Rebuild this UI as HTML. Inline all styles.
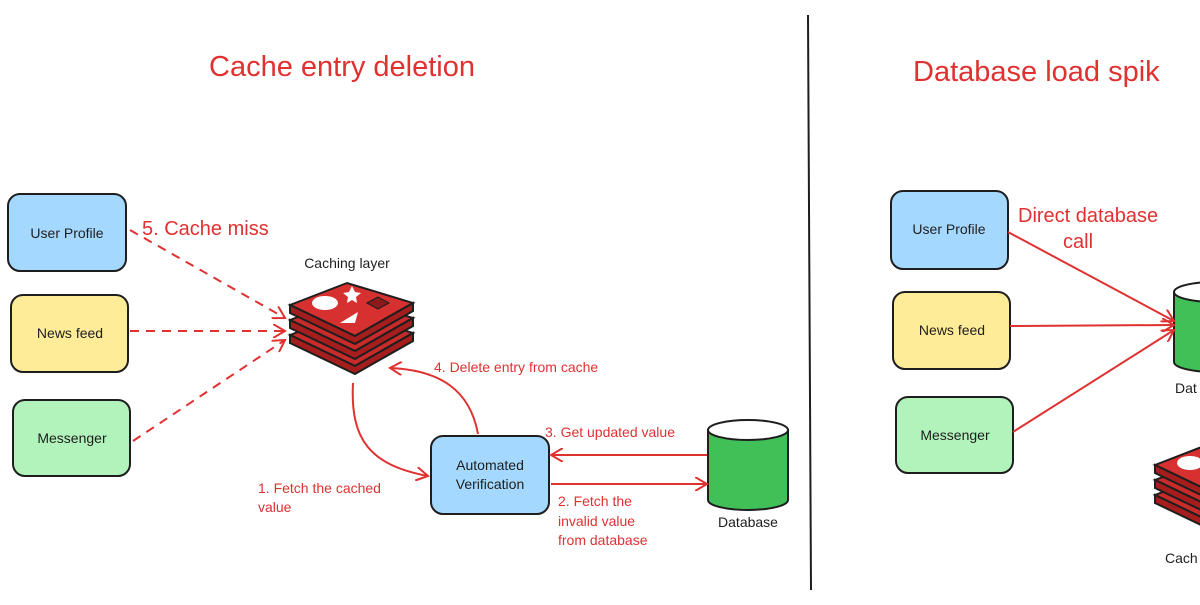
<!DOCTYPE html>
<html><head><meta charset="utf-8"><style>
html,body{margin:0;padding:0;background:#fff;}
svg text{font-family:"Liberation Sans",sans-serif;}
</style></head><body>
<svg width="1200" height="600" viewBox="0 0 1200 600" xmlns="http://www.w3.org/2000/svg">
<defs>
<marker id="ah" markerWidth="14" markerHeight="14" refX="12" refY="7" orient="auto" markerUnits="userSpaceOnUse">
<path d="M0,0 L12,7 L0,14" fill="none" stroke="#e03131" stroke-width="2"/>
</marker>
<g id="stack">
<g stroke="#1e1e1e" stroke-width="2">
<g transform="translate(0,30)"><path d="M290,305 L347,283 L413,303 L355,336 Z" fill="#c92a2a"/><path d="M290,305 L290,313 L355,344 L413,311 L413,303 L355,336Z" fill="#a51d1d"/></g>
<g transform="translate(0,15)"><path d="M290,305 L347,283 L413,303 L355,336 Z" fill="#c92a2a"/><path d="M290,305 L290,313 L355,344 L413,311 L413,303 L355,336Z" fill="#a51d1d"/></g>
<path d="M290,305 L347,283 L413,303 L355,336 Z" fill="#d63030"/><path d="M290,305 L290,313 L355,344 L413,311 L413,303 L355,336Z" fill="#a51d1d"/>
</g>
<ellipse cx="325" cy="303" rx="13" ry="7" fill="#fff"/>
<polygon points="352,286 355,292 361,293 356,297 357,303 352,300 347,303 348,297 343,293 349,292" fill="#fff"/>
<polygon points="340,323 358,312 355,323" fill="#fff"/>
<polygon points="367,303 378,297 389,303 378,309" fill="#8b1a1a" stroke="#1e1e1e"/>
</g>
</defs>
<rect width="1200" height="600" fill="#fff"/>
<text x="342" y="76" text-anchor="middle" font-size="29" fill="#e03131">Cache entry deletion</text>
<line x1="808" y1="15" x2="811" y2="590" stroke="#1e1e1e" stroke-width="2"/>
<text x="913" y="81" font-size="29" fill="#e03131">Database load spik</text>

<g stroke="#1e1e1e" stroke-width="2">
<rect x="8" y="194" width="118" height="77" rx="12" fill="#a5d8ff"/>
<rect x="11" y="295" width="117" height="77" rx="12" fill="#ffec99"/>
<rect x="13" y="400" width="117" height="76" rx="12" fill="#b2f2bb"/>
<rect x="431" y="436" width="118" height="78" rx="12" fill="#a5d8ff"/>
<rect x="891" y="191" width="117" height="78" rx="12" fill="#a5d8ff"/>
<rect x="893" y="292" width="117" height="77" rx="12" fill="#ffec99"/>
<rect x="896" y="397" width="117" height="76" rx="12" fill="#b2f2bb"/>
</g>
<g font-size="14" fill="#1e1e1e" text-anchor="middle">
<text x="67" y="238">User Profile</text>
<text x="70" y="338">News feed</text>
<text x="72" y="443">Messenger</text>
<text x="490" y="470">Automated</text>
<text x="490" y="489">Verification</text>
<text x="949" y="234">User Profile</text>
<text x="952" y="335">News feed</text>
<text x="955" y="440">Messenger</text>
<text x="748" y="527">Database</text>
<text x="347" y="268">Caching layer</text>
</g>
<text x="1175" y="393" font-size="14" fill="#1e1e1e">Dat</text>
<text x="1165" y="563" font-size="14" fill="#1e1e1e">Cach</text>

<g stroke="#1e1e1e" stroke-width="2" fill="#40c057">
<path d="M708,430 L708,500 A40,10 0 0 0 788,500 L788,430"/>
<ellipse cx="748" cy="430" rx="40" ry="10" fill="#fff"/>
<path d="M1174,292 L1174,362 A40,10 0 0 0 1254,362 L1254,292"/>
<ellipse cx="1214" cy="292" rx="40" ry="10" fill="#fff"/>
</g>

<use href="#stack"/>
<use href="#stack" transform="translate(865,160)"/>

<g stroke="#e03131" stroke-width="2" fill="none" marker-end="url(#ah)">
<line x1="130" y1="230" x2="285" y2="318" stroke-dasharray="9,7"/>
<line x1="130" y1="331" x2="285" y2="331" stroke-dasharray="9,7"/>
<line x1="133" y1="441" x2="285" y2="340" stroke-dasharray="9,7"/>
<path d="M353,383 C350,440 370,465 428,476"/>
<path d="M478,434 C470,390 440,370 390,368"/>
<line x1="707" y1="455" x2="551" y2="455"/>
<line x1="551" y1="484" x2="707" y2="484"/>
<line x1="1008" y1="232" x2="1174" y2="321"/>
<line x1="1010" y1="326" x2="1174" y2="325"/>
<line x1="1013" y1="432" x2="1174" y2="330"/>
</g>
<g fill="#e03131">
<text x="142" y="235" font-size="20">5. Cache miss</text>
<text x="434" y="372" font-size="14">4. Delete entry from cache</text>
<text x="545" y="437" font-size="14">3. Get updated value</text>
<text x="258" y="493" font-size="14">1. Fetch the cached</text>
<text x="258" y="512" font-size="14">value</text>
<text x="558" y="506" font-size="14">2. Fetch the</text>
<text x="558" y="526" font-size="14">invalid value</text>
<text x="558" y="545" font-size="14">from database</text>
<text x="1018" y="222" font-size="20">Direct database</text>
<text x="1063" y="248" font-size="20">call</text>
</g>
</svg>
</body></html>
